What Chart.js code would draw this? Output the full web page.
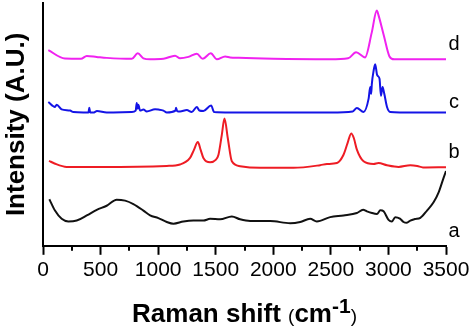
<!DOCTYPE html>
<html>
<head>
<meta charset="utf-8">
<script src="https://cdn.jsdelivr.net/npm/chart.js@4/dist/chart.umd.min.js"></script>
<style>
  html, body { margin: 0; padding: 0; background: #fff; }
  #chart { display: block; }
</style>
</head>
<body>
<canvas id="chart" width="474" height="328"></canvas>
<script>
// Raman spectra, curves a-d (offset vertically, arbitrary units)
const aShift = [55, 104, 162, 220, 293, 380, 467, 553, 640, 713, 785, 872, 930, 1002, 1075, 1133, 1219, 1306, 1393, 1451, 1538, 1640, 1712, 1799, 1973, 2147, 2234, 2320, 2378, 2494, 2610, 2726, 2780, 2813, 2850, 2900, 2930, 2958, 3001, 3030, 3059, 3100, 3131, 3160, 3190, 3230, 3277, 3335, 3392, 3436, 3479, 3500];
const aIntensity = [19.2, 14.5, 11.1, 10.0, 10.4, 12.5, 14.8, 16.5, 19.0, 18.6, 17.2, 14.5, 12.5, 11.4, 9.8, 9.1, 10.0, 10.4, 10.4, 11.1, 10.9, 12.1, 10.9, 10.2, 10.2, 9.3, 9.8, 11.1, 10.0, 11.8, 12.5, 13.5, 14.8, 14.2, 13.6, 13.1, 14.6, 14.2, 10.7, 10.0, 11.8, 11.2, 9.8, 9.5, 10.4, 11.0, 11.5, 14.5, 17.9, 22.0, 28.0, 30.8];

const bShift = [52, 100, 206, 500, 1075, 1190, 1277, 1310, 1345, 1370, 1393, 1451, 1500, 1524, 1553, 1576, 1605, 1640, 1712, 1886, 2175, 2407, 2466, 2553, 2610, 2645, 2677, 2700, 2726, 2784, 2871, 2914, 2987, 3088, 3190, 3250, 3300, 3500];
const bIntensity = [35.0, 33.9, 32.5, 32.5, 32.9, 33.5, 36.2, 39.4, 42.7, 39.4, 36.2, 34.4, 35.4, 37.5, 45.7, 52.4, 44.3, 34.8, 32.8, 32.1, 32.1, 33.2, 33.7, 34.1, 37.5, 42.3, 46.3, 44.3, 39.6, 34.8, 33.7, 34.1, 33.2, 32.5, 33.2, 32.9, 32.3, 32.4];

const cShift = [46, 104, 119, 162, 235, 264, 350, 395, 402, 410, 437, 469, 553, 771, 805, 814, 822, 828, 843, 872, 901, 973, 1002, 1046, 1075, 1150, 1156, 1165, 1190, 1249, 1292, 1336, 1358, 1393, 1460, 1486, 1625, 2500, 2690, 2726, 2784, 2828, 2842, 2850, 2856, 2871, 2885, 2900, 2909, 2923, 2935, 2949, 2964, 2987, 3016, 3100, 3500];
const cIntensity = [59.2, 57.2, 58.1, 56.2, 55.7, 55.1, 54.9, 54.9, 56.9, 54.9, 54.9, 55.5, 54.9, 55.1, 55.7, 58.8, 56.5, 58.1, 55.7, 56.1, 55.3, 56.2, 56.1, 55.7, 54.9, 55.7, 56.9, 55.5, 55.3, 55.9, 55.1, 57.2, 55.7, 55.5, 57.8, 55.1, 54.9, 54.9, 55.3, 56.8, 55.1, 60.6, 65.4, 62.6, 66.7, 72.0, 74.8, 70.7, 69.9, 68.7, 61.8, 65.4, 62.6, 57.3, 55.1, 54.9, 54.9];

const dShift = [46, 190, 330, 380, 466, 553, 771, 823, 872, 930, 1046, 1147, 1190, 1263, 1336, 1388, 1457, 1510, 1582, 1625, 1700, 2000, 2493, 2650, 2719, 2797, 2855, 2899, 2913, 2960, 3009, 3050, 3500];
const dIntensity = [80.6, 77.1, 77.0, 78.2, 77.8, 77.4, 77.0, 79.3, 77.2, 76.8, 77.0, 78.3, 77.2, 77.8, 79.1, 77.0, 79.3, 76.8, 78.0, 77.6, 77.4, 77.0, 76.8, 77.2, 79.7, 77.6, 87.8, 96.9, 95.1, 86.6, 78.0, 76.8, 76.8];

const curveNames = ['a', 'b', 'c', 'd'];
const curveColors = ['#111111', '#ee1c24', '#1414e6', '#f022f0'];
const nameLevels = [5.7, 38.6, 58.9, 82.9];

const shiftTicks = [0, 500, 1000, 1500, 2000, 2500, 3000, 3500];
const minorTicks = [250, 750, 1250, 1750, 2250, 2750, 3250];

const FONT = '"Liberation Sans", Arial, Helvetica, sans-serif';

function pts(xs, ys) {
    return xs.map((v, i) => ({ x: v, y: ys[i] }));
}

const series = [pts(aShift, aIntensity), pts(bShift, bIntensity), pts(cShift, cIntensity), pts(dShift, dIntensity)];

const decorations = {
    id: 'decorations',
    afterDraw(chart) {
        const { ctx, chartArea, scales: { x, y } } = chart;
        ctx.save();

        // minor ticks on the x axis
        ctx.strokeStyle = '#000';
        ctx.lineWidth = 2;
        minorTicks.forEach(v => {
            const px = Math.round(x.getPixelForValue(v));
            ctx.beginPath();
            ctx.moveTo(px, chartArea.bottom);
            ctx.lineTo(px, chartArea.bottom + 5);
            ctx.stroke();
        });

        // curve letters at the right end
        ctx.fillStyle = '#000';
        ctx.font = '20px ' + FONT;
        ctx.textAlign = 'center';
        ctx.textBaseline = 'middle';
        curveNames.forEach((n, i) => {
            ctx.fillText(n, chartArea.right + 8, y.getPixelForValue(nameLevels[i]));
        });

        // x title with superscript
        const parts = [
            { t: 'Raman shift ', f: 'bold 26px ' + FONT, dy: 0 },
            { t: '(', f: '19px ' + FONT, dy: 0 },
            { t: 'cm', f: 'bold 26px ' + FONT, dy: 0 },
            { t: '-1', f: 'bold 21px ' + FONT, dy: -9 },
            { t: ')', f: '19px ' + FONT, dy: 0 }
        ];
        let total = 0;
        parts.forEach(p => { ctx.font = p.f; p.w = ctx.measureText(p.t).width; total += p.w; });
        let cx = (chartArea.left + chartArea.right) / 2 - total / 2;
        ctx.textAlign = 'left';
        ctx.textBaseline = 'alphabetic';
        parts.forEach(p => {
            ctx.font = p.f;
            ctx.fillText(p.t, cx, 322 + p.dy);
            cx += p.w;
        });

        // y title
        ctx.translate(24, (chartArea.top + chartArea.bottom) / 2);
        ctx.rotate(-Math.PI / 2);
        ctx.font = 'bold 26px ' + FONT;
        ctx.textAlign = 'center';
        ctx.fillText('Intensity (A.U.)', 0, 0);

        ctx.restore();
    }
};

new Chart(document.getElementById('chart').getContext('2d'), {
    type: 'line',
    data: {
        datasets: series.map((d, i) => ({
            label: curveNames[i],
            data: d,
            borderColor: curveColors[i],
            borderWidth: 2,
            pointRadius: 0,
            cubicInterpolationMode: 'monotone',
            fill: false
        }))
    },
    options: {
        responsive: false,
        animation: false,
        devicePixelRatio: 1,
        layout: { padding: { left: 43, right: 28, top: 3, bottom: 42 } },
        plugins: {
            legend: { display: false },
            tooltip: { enabled: false }
        },
        scales: {
            x: {
                type: 'linear',
                min: 0,
                max: 3500,
                afterBuildTicks: scale => {
                    scale.ticks = shiftTicks.map(v => ({ value: v }));
                },
                ticks: {
                    autoSkip: false,
                    maxRotation: 0,
                    padding: 3,
                    color: '#000',
                    font: { size: 21, family: FONT },
                    callback: v => String(v)
                },
                grid: {
                    drawOnChartArea: false,
                    drawTicks: true,
                    tickLength: 9,
                    tickColor: '#000',
                    tickWidth: 2
                },
                border: { color: '#000', width: 2 }
            },
            y: {
                min: 0,
                max: 100,
                ticks: { display: false },
                grid: { drawOnChartArea: false, drawTicks: false },
                border: { color: '#000', width: 2 }
            }
        }
    },
    plugins: [decorations]
});
</script>
</body>
</html>
